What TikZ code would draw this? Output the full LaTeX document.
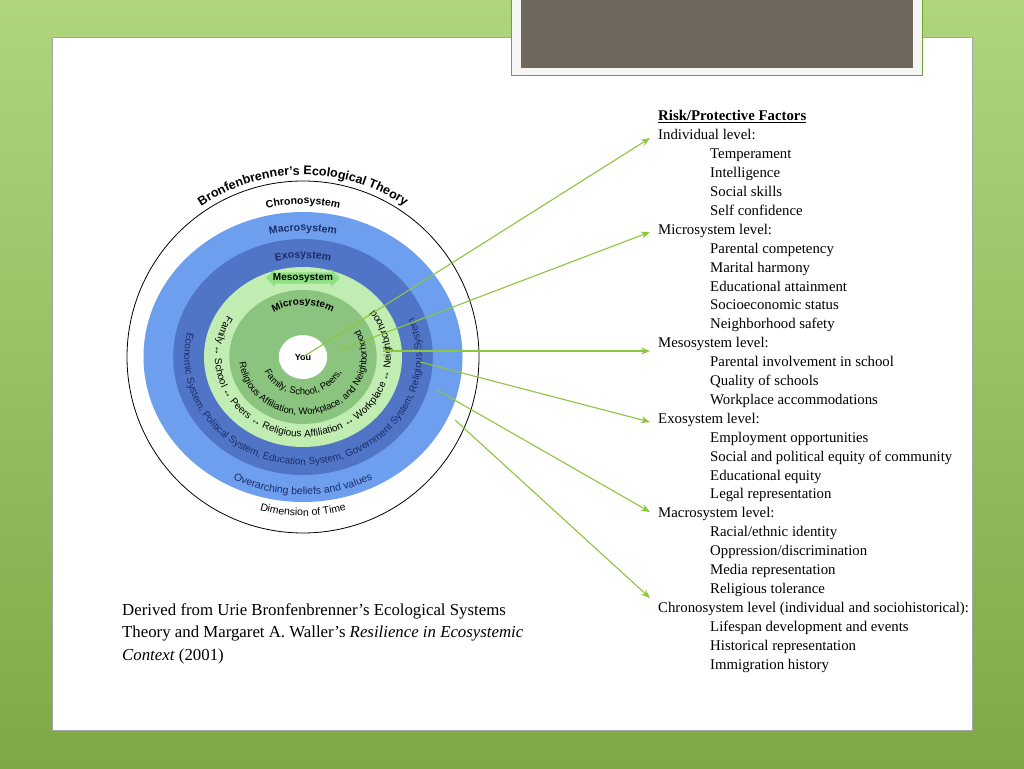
\documentclass[tikz,border=0pt]{standalone}
\usepackage{fontspec}
\setmainfont{Liberation Serif}
\setsansfont{Liberation Sans}
\usetikzlibrary{decorations.text,arrows.meta,shapes.arrows}
\definecolor{bggreen}{HTML}{9CCB5C}
\definecolor{bgdark}{HTML}{7FA845}
\definecolor{boxgray}{HTML}{6E685C}
\definecolor{linkgreen}{HTML}{8CC63F}
\definecolor{macroblue}{HTML}{6E9EEE}
\definecolor{exoblue}{HTML}{5075C6}
\definecolor{mesogreen}{HTML}{C2EDB2}
\definecolor{microgreen}{HTML}{8BC47E}
\definecolor{navy}{HTML}{1C2C6A}
\tikzset{
  link/.style={linkgreen,line width=1.1pt,-{Stealth[length=9pt,width=7pt]}},
  item/.style={anchor=base west,inner sep=0pt,font=\fontsize{14.8}{16}\selectfont},
}
\newcommand{\ringtext}[4]{% radius, start, end, text
  \path[decorate,decoration={text along path,text align=center,text={#4}}]
    (0,0) ++(#2:#1) arc[start angle=#2,end angle=#3,radius=#1];}
\begin{document}
\begin{tikzpicture}[x=1pt,y=1pt]
	\useasboundingbox (0,0) rectangle (1024,768);
	%background
	\shade[top color=bggreen!80!white,bottom color=bgdark] (0,0) rectangle (1024,768);
	\draw[gray!70,fill=white] (52,38) rectangle (972,731);
	\draw[linkgreen!80!black,fill=gray!8,line width=1pt] (511,692) rectangle (922,768);
	\fill[boxgray] (521,700) rectangle (913,768);

	%circle
	\begin{scope}[shift={(303,411)}]
	\draw[fill=white,line width=0.8pt] (0,0) circle (176);
	\begin{scope}[xscale=1.1]
	\fill[macroblue] (0,0) circle (145);
	\fill[exoblue] (0,0) circle (118);
	\fill[mesogreen] (0,0) circle (90);
	\fill[microgreen] (0,0) circle (67);
	\fill[white] (0,0) circle (22);
	\end{scope}
	\node[font=\sffamily\bfseries\small] (you) at (0,0) {You};
	\ringtext{182}{155}{25}{|\sffamily\bfseries\fontsize{12.5}{12}\selectfont|Bronfenbrenner's Ecological Theory}
	\ringtext{153}{118}{62}{|\sffamily\bfseries\fontsize{10.5}{10}\selectfont|Chronosystem}
	\ringtext{159}{242}{298}{|\sffamily\fontsize{10.5}{10}\selectfont|Dimension of Time}
	\begin{scope}[xscale=1.1]
	\ringtext{126}{112}{68}{|\sffamily\bfseries\color{navy}\fontsize{10.5}{10}\selectfont|Macrosystem}
	\ringtext{138}{228}{312}{|\sffamily\color{navy}\fontsize{10.5}{10}\selectfont|Overarching beliefs and values}
	\ringtext{99}{112}{68}{|\sffamily\bfseries\color{navy}\fontsize{10.5}{10}\selectfont|Exosystem}
	\ringtext{108}{158}{390}{|\sffamily\color{navy}\fontsize{10}{10}\selectfont|Economic System, Political System, Education System, Government System, Religious System}
	\ringtext{80}{125}{420}{|\sffamily\fontsize{10}{10}\selectfont|Family ↔ School ↔ Peers ↔ Religious Affiliation ↔ Workplace ↔ Neighborhood}
	\ringtext{52}{118}{62}{|\sffamily\bfseries\fontsize{10}{10}\selectfont|Microsystem}
	\ringtext{58}{175}{398}{|\sffamily\fontsize{9.5}{9}\selectfont|Religious Affiliation, Workplace, and Neighborhood}
	\ringtext{38}{195}{345}{|\sffamily\fontsize{9.5}{9}\selectfont|Family, School, Peers,}
	\end{scope}
	\node[double arrow,double arrow head extend=3pt,fill=green!25!mesogreen!85!gray,font=\sffamily\bfseries\fontsize{10}{10}\selectfont,inner sep=1pt] (meso) at (0,79) {Mesosystem};
	\coordinate (p2) at (37,7);
	\coordinate (p3) at (80,6);
	\coordinate (p4) at (117,-5);
	\coordinate (p5) at (134,-33);
	\coordinate (p6) at (152,-63);
	\end{scope}

	%list
	\foreach \t [count=\i from 0] in {
	  Individual level:,,,,,
	  Microsystem level:,,,,,,
	  Mesosystem level:,,,,
	  Exosystem level:,,,,,
	  Macrosystem level:,,,,,
	  Chronosystem level (individual and sociohistorical):}
	  {\node[item] at (658,{647-18.9*(\i+1)}) {\t};}
	\node[item] (head) at (658,647) {\textbf{\underline{Risk/Protective Factors}}};
	\foreach \t [count=\i] in {Temperament,Intelligence,Social skills,Self confidence}
	  {\node[item] at (710,{647-18.9*(\i+1)}) {\t};}
	\foreach \t [count=\i] in {Parental competency,Marital harmony,Educational attainment,Socioeconomic status,Neighborhood safety}
	  {\node[item] at (710,{647-18.9*(\i+6)}) {\t};}
	\foreach \t [count=\i] in {Parental involvement in school,Quality of schools,Workplace accommodations}
	  {\node[item] at (710,{647-18.9*(\i+12)}) {\t};}
	\foreach \t [count=\i] in {Employment opportunities,Social and political equity of community,Educational equity,Legal representation}
	  {\node[item] at (710,{647-18.9*(\i+16)}) {\t};}
	\foreach \t [count=\i] in {Racial/ethnic identity,Oppression/discrimination,Media representation,Religious tolerance}
	  {\node[item] at (710,{647-18.9*(\i+21)}) {\t};}
	\foreach \t [count=\i] in {Lifespan development and events,Historical representation,Immigration history}
	  {\node[item] at (710,{647-18.9*(\i+26)}) {\t};}

	%arrows
	\coordinate (a1) at (650,630);
	\coordinate (a2) at (650,536);
	\coordinate (a3) at (650,417);
	\coordinate (a4) at (650,346);
	\coordinate (a5) at (650,256);
	\coordinate (a6) at (650,170);
	\draw[link] (you.center) -- (a1);
	\draw[link] (p2) -- (a2);
	\draw[link] (p3) -- (a3);
	\draw[link] (p4) -- (a4);
	\draw[link] (p5) -- (a5);
	\draw[link] (p6) -- (a6);

	%source
	\node[anchor=north west,align=flush left,text width=415pt,inner sep=0pt,font=\fontsize{16.8}{22.5}\selectfont] (src) at (122,165)
	  {Derived from Urie Bronfenbrenner’s Ecological Systems Theory and Margaret A. Waller’s \textit{Resilience in Ecosystemic Context} (2001)};
\end{tikzpicture}
\end{document}
